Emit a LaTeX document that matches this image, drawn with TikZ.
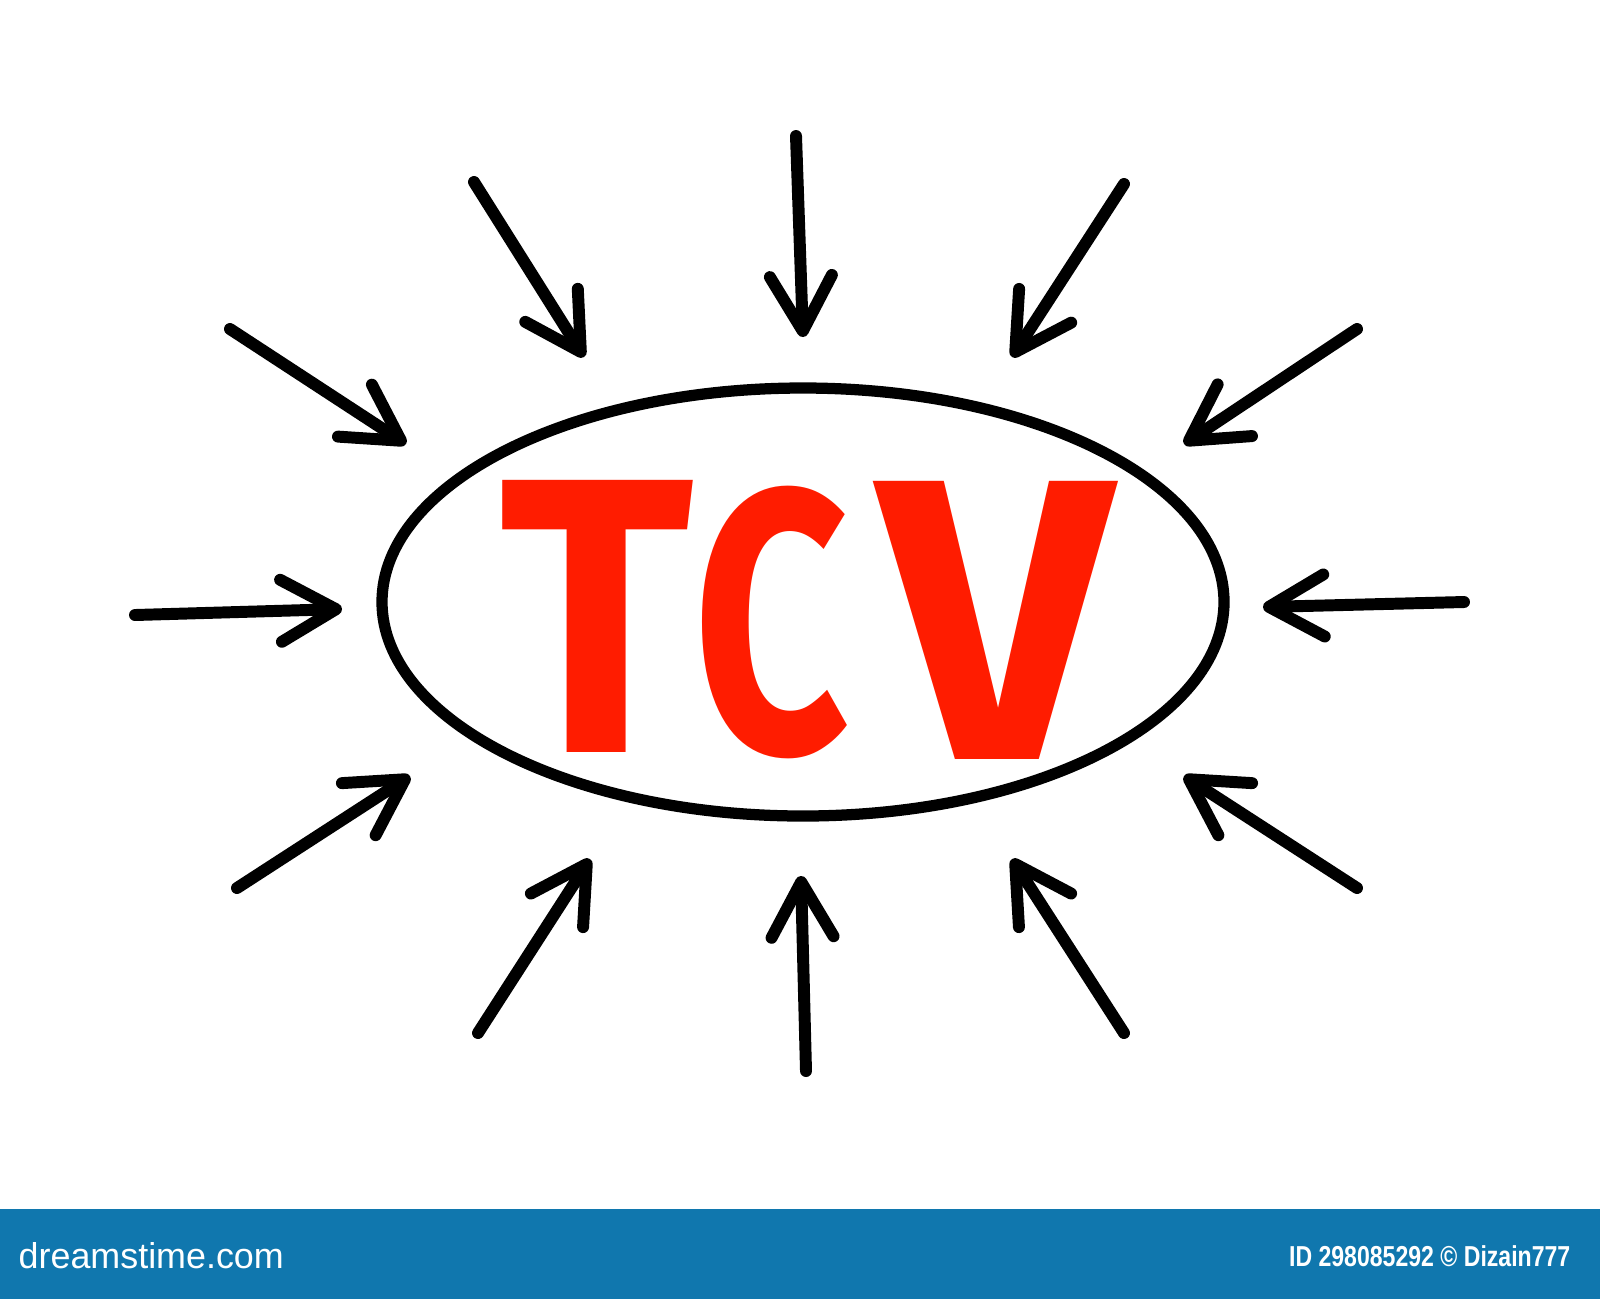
\documentclass[tikz,border=0pt]{standalone}
\usepackage{fontspec}
\usepackage{xcolor}
\usepackage{tikz}
\usetikzlibrary{arrows.meta}
\setmainfont{Fira Sans}
\newfontfamily\barfont{Liberation Sans}

\definecolor{tcvred}{RGB}{255,28,0}
\definecolor{barblue}{RGB}{16,119,174}

\begin{document}
\begin{tikzpicture}[x=0.01cm,y=-0.01cm,
    inarrow/.style={line width=3.4pt,line cap=round,
      -{Straight Barb[length=0.55cm,width=0.62cm,round]}},
    letter/.style={text=tcvred,inner sep=0pt,font=\bfseries}]
          \useasboundingbox (0,0) rectangle (1600,1299);
          \fill[white] (0,0) rectangle (1600,1299);

          % the oval
          \draw[line width=3.2pt] (803,602) ellipse [x radius=421,y radius=214];

          \node[letter] (T) at (597,616) {\resizebox{1.94cm}{2.72cm}{T}};
          \node[letter] (C) at (772,622) {\resizebox{1.56cm}{2.66cm}{C}};
          \node[letter] (V) at (996,620) {\resizebox{2.34cm}{2.78cm}{V}};

          % tails and heads of the arrows
          \coordinate (t1) at (796,136);   \coordinate (h1) at (803,337);
          \coordinate (t2) at (474,182);   \coordinate (h2) at (584,357);
          \coordinate (t3) at (1124,184);  \coordinate (h3) at (1012,357);
          \coordinate (t4) at (230,329);   \coordinate (h4) at (406,444);
          \coordinate (t5) at (1357,329);  \coordinate (h5) at (1184,444);
          \coordinate (t6) at (135,615);   \coordinate (h6) at (342,609);
          \coordinate (t7) at (1464,602);  \coordinate (h7) at (1263,607);
          \coordinate (t8) at (237,888);   \coordinate (h8) at (410,776);
          \coordinate (t9) at (1357,888);  \coordinate (h9) at (1184,776);
          \coordinate (t10) at (478,1033); \coordinate (h10) at (590,859);
          \coordinate (t11) at (806,1071); \coordinate (h11) at (801,876);
          \coordinate (t12) at (1124,1033);\coordinate (h12) at (1012,859);

          \foreach \i in {1,...,12}
            \draw[inarrow] (t\i) -- (h\i);

          % bottom bar
          \fill[barblue] (0,1209) rectangle (1600,1299);
          \node[anchor=west,text=white,inner sep=0pt,font=\barfont\fontsize{10.2}{11}\selectfont] (site) at (18,1256) {dreamstime.com};
          \node[anchor=east,text=white,inner sep=0pt,font=\barfont\bfseries\fontsize{8.2}{9}\selectfont] (credit) at (1571,1256) {\scalebox{0.8}[1]{ID 298085292 © Dizain777}};
\end{tikzpicture}
\end{document}
